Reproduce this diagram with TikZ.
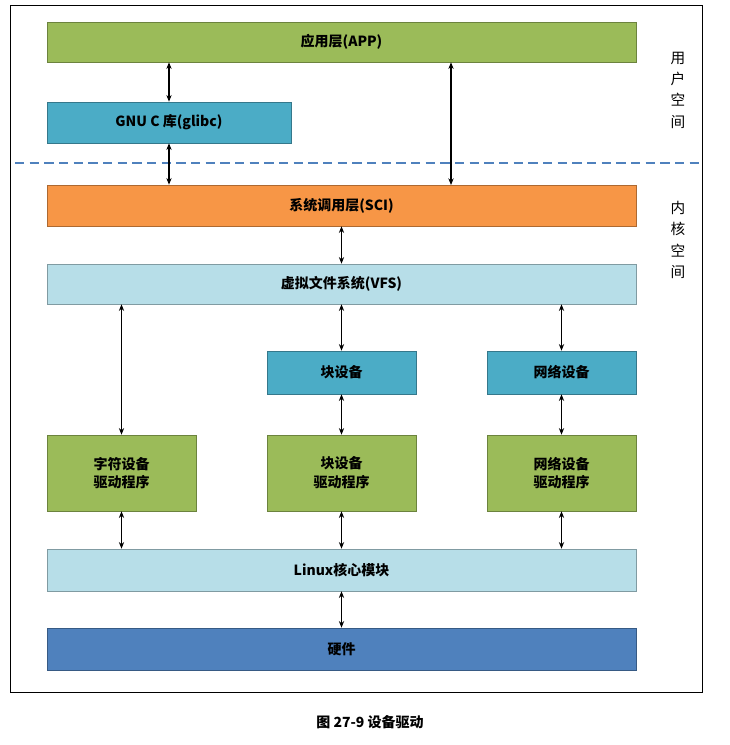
\documentclass[tikz,border=0pt]{standalone}
\usepackage{fontspec}
\setmainfont{Liberation Sans}
\newfontfamily\cjk{Noto Sans CJK SC}
\usetikzlibrary{arrows.meta}
\definecolor{appgreen}{HTML}{9BBB59}
\definecolor{libteal}{HTML}{4BACC6}
\definecolor{sciorange}{HTML}{F79646}
\definecolor{vfsblue}{HTML}{B7DEE8}
\definecolor{hwblue}{HTML}{4F81BD}
\tikzset{
	layer/.style = {draw = #1!70!black, fill = #1, line width = 0.5pt, font = \cjk\bfseries\fontsize{10.5pt}{14pt}\selectfont, align = center, inner sep = 0pt},
	link/.style = {{Stealth[length = 5pt, width = 4pt]}-{Stealth[length = 5pt, width = 4pt]}, line width = 0.8pt}
}

\begin{document}
\begin{tikzpicture}[x = 0.75pt, y = -0.75pt]
	\useasboundingbox (0, 0) rectangle (730, 745);
	\draw [line width = 0.6pt] (10, 5) rectangle (702, 692);

	% Schichten
	\node [layer = appgreen, minimum width = 589*0.75pt, minimum height = 40*0.75pt] (app) at (341.5, 42) {应用层(APP)};
	\node [layer = libteal, minimum width = 244*0.75pt, minimum height = 41*0.75pt] (glibc) at (169, 122.5) {GNU C 库(glibc)};
	\node [layer = sciorange, minimum width = 589*0.75pt, minimum height = 41*0.75pt] (sci) at (341.5, 205.5) {系统调用层(SCI)};
	\node [layer = vfsblue, minimum width = 589*0.75pt, minimum height = 40*0.75pt] (vfs) at (341.5, 284) {虚拟文件系统(VFS)};
	\node [layer = libteal, minimum width = 149*0.75pt, minimum height = 43*0.75pt] (blk) at (341.5, 372.5) {块设备};
	\node [layer = libteal, minimum width = 149*0.75pt, minimum height = 43*0.75pt] (net) at (561.5, 372.5) {网络设备};
	\node [layer = appgreen, minimum width = 149*0.75pt, minimum height = 76*0.75pt] (chrdrv) at (121.5, 473) {字符设备\\驱动程序};
	\node [layer = appgreen, minimum width = 149*0.75pt, minimum height = 76*0.75pt] (blkdrv) at (341.5, 473) {块设备\\驱动程序};
	\node [layer = appgreen, minimum width = 149*0.75pt, minimum height = 76*0.75pt] (netdrv) at (561.5, 473) {网络设备\\驱动程序};
	\node [layer = vfsblue, minimum width = 589*0.75pt, minimum height = 42*0.75pt] (core) at (341.5, 570) {Linux核心模块};
	\node [layer = hwblue, minimum width = 589*0.75pt, minimum height = 42*0.75pt] (hw) at (341.5, 649) {硬件};

	% Trennlinie
	\draw [hwblue, line width = 1.5pt, dash pattern = on 7pt off 4pt] (15, 163) -- (700, 163);
	\begin{scope}[font = \cjk\fontsize{11pt}{16pt}\selectfont, align = center]
		\node (user) at (678, 90) {用\\户\\空\\间};
		\node (kernel) at (678, 240) {内\\核\\空\\间};
	\end{scope}

	% Verbindungen
	\coordinate (sys) at (451, 185);
	\draw [link] (glibc.north) -- (glibc.north |- app.south);
	\draw [link] (glibc.south) -- (glibc.south |- sci.north);
	\draw [link] (sys) -- (sys |- app.south);
	\draw [link] (sci.south) -- (vfs.north);
	\draw [link] (chrdrv.north) -- (chrdrv.north |- vfs.south);
	\draw [link] (blk.north) -- (blk.north |- vfs.south);
	\draw [link] (net.north) -- (net.north |- vfs.south);
	\draw [link] (blk.south) -- (blkdrv.north);
	\draw [link] (net.south) -- (netdrv.north);
	\foreach \drv in {chrdrv, blkdrv, netdrv} {
		\draw [link] (\drv.south) -- (\drv.south |- core.north);
	}
	\draw [link] (core.south) -- (hw.north);

	\node [font = \cjk\bfseries\fontsize{10.5pt}{12pt}\selectfont] (caption) at (370, 722) {图 27-9 设备驱动};
\end{tikzpicture}
\end{document}
